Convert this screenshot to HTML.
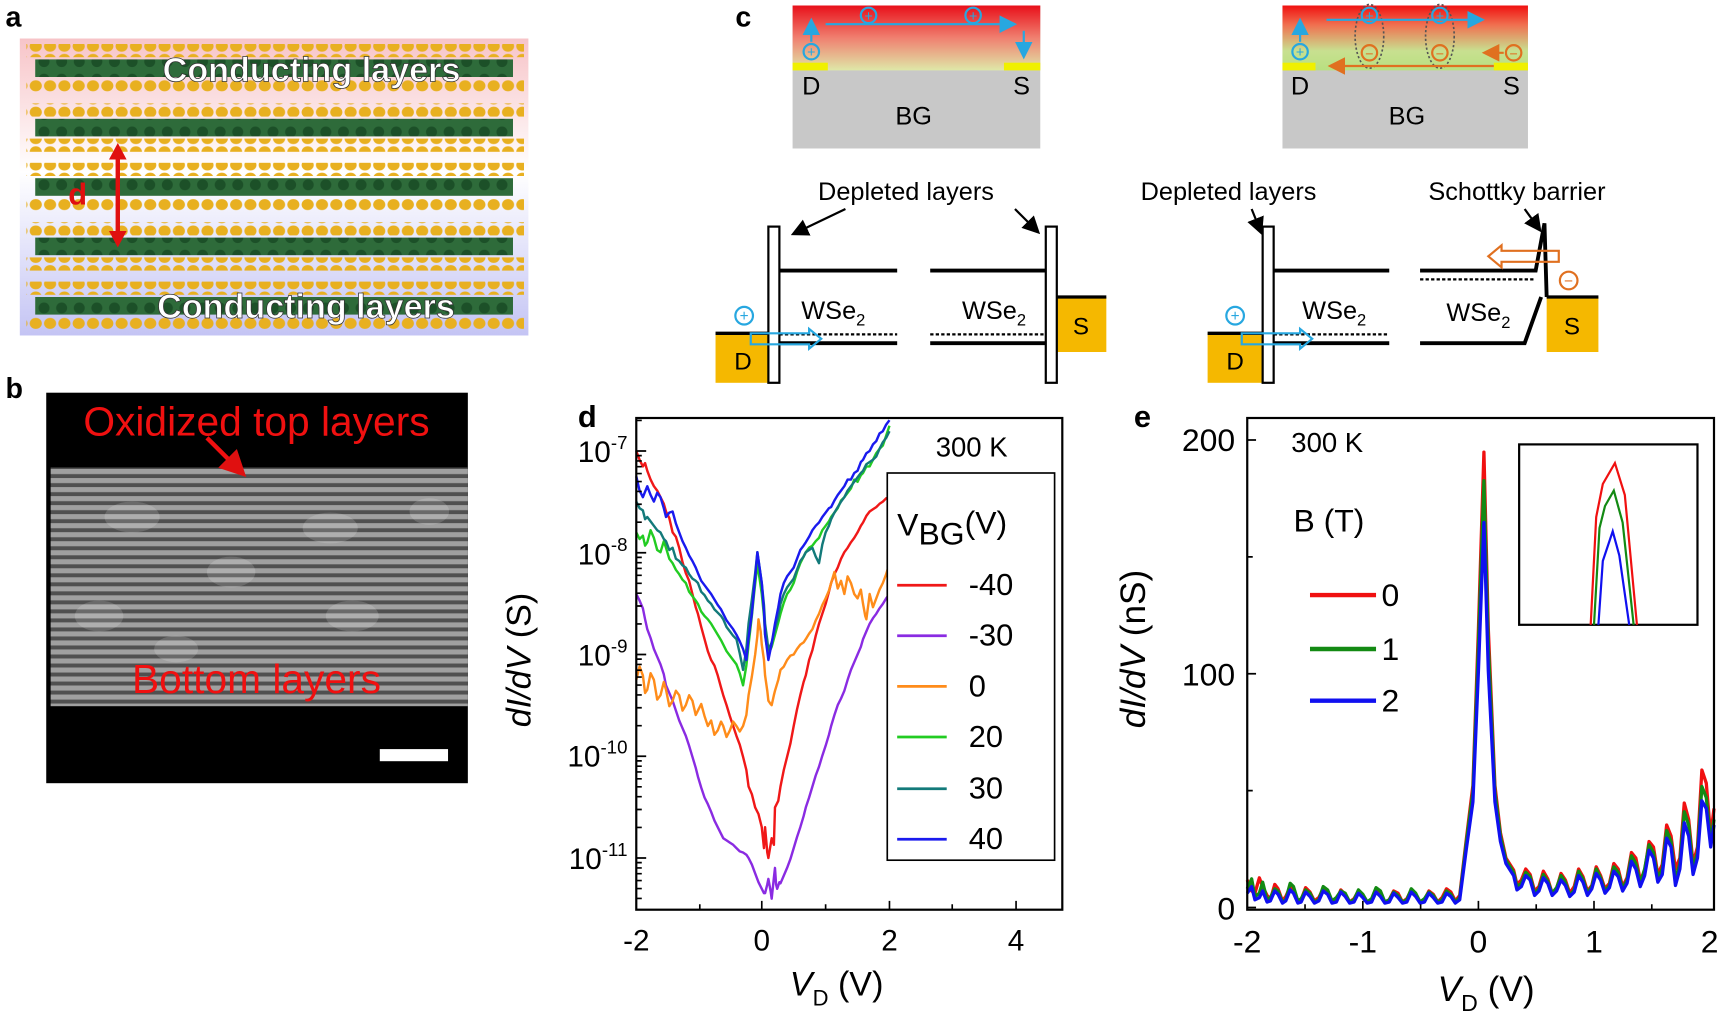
<!DOCTYPE html>
<html><head><meta charset="utf-8"><style>
html,body{margin:0;padding:0;background:#fff;}
svg{display:block;font-family:"Liberation Sans",Arial,sans-serif;}
</style></head><body>
<svg width="1725" height="1023" viewBox="0 0 1567 930" preserveAspectRatio="none" xmlns="http://www.w3.org/2000/svg">
<defs>
<linearGradient id="ga" x1="0" y1="0" x2="0" y2="1">
<stop offset="0" stop-color="#f7c4c8"/><stop offset="0.45" stop-color="#ffffff"/><stop offset="1" stop-color="#c4c4f4"/></linearGradient>
<linearGradient id="gc1" x1="0" y1="0" x2="0" y2="1">
<stop offset="0" stop-color="#e8101a"/><stop offset="0.5" stop-color="#f08070"/><stop offset="1" stop-color="#dfe8a8"/></linearGradient>
<linearGradient id="gc2" x1="0" y1="0" x2="0" y2="1">
<stop offset="0" stop-color="#f01010"/><stop offset="0.3" stop-color="#f07050"/><stop offset="0.7" stop-color="#c8e090"/><stop offset="1" stop-color="#b8e080"/></linearGradient>
<pattern id="balls" x="0" y="0" width="13" height="12" patternUnits="userSpaceOnUse">
<ellipse cx="6.5" cy="6" rx="5.5" ry="5" fill="#e8b020"/></pattern>
<pattern id="grn" x="0" y="0" width="16" height="16" patternUnits="userSpaceOnUse">
<rect width="16" height="16" fill="#2e6b3a"/><circle cx="8" cy="8" r="5" fill="#1c5028"/></pattern>
<pattern id="stripes" x="0" y="0" width="20" height="8.2" patternUnits="userSpaceOnUse">
<rect width="20" height="8.2" fill="#a0a0a0"/><rect y="4.6" width="20" height="3.6" fill="#505050"/></pattern>
<marker id="ab" markerWidth="8" markerHeight="8" refX="6" refY="4" orient="auto"><path d="M0,0 L8,4 L0,8 z" fill="#27a7e0"/></marker>
<marker id="ao" markerWidth="8" markerHeight="8" refX="6" refY="4" orient="auto"><path d="M0,0 L8,4 L0,8 z" fill="#e07020"/></marker>
<marker id="ak" markerWidth="8" markerHeight="8" refX="6" refY="4" orient="auto"><path d="M0,0 L8,4 L0,8 z" fill="#000"/></marker>
<marker id="ar" markerWidth="6" markerHeight="6" refX="4" refY="3" orient="auto"><path d="M0,0 L6,3 L0,6 z" fill="#e01010"/></marker>
</defs>

<!-- panel a -->
<text x="5" y="24" font-size="26" font-weight="bold">a</text>
<rect x="18" y="35" width="462" height="270" fill="url(#ga)"/>
<g>
<rect x="24" y="40" width="452" height="12" fill="url(#balls)"/><rect x="24" y="72" width="452" height="12" fill="url(#balls)"/><rect x="32" y="54" width="434" height="16" fill="url(#grn)"/>
<rect x="24" y="94" width="452" height="12" fill="url(#balls)"/><rect x="24" y="126" width="452" height="12" fill="url(#balls)"/><rect x="32" y="108" width="434" height="16" fill="url(#grn)"/>
<rect x="24" y="148" width="452" height="12" fill="url(#balls)"/><rect x="24" y="180" width="452" height="12" fill="url(#balls)"/><rect x="32" y="162" width="434" height="16" fill="url(#grn)"/>
<rect x="24" y="202" width="452" height="12" fill="url(#balls)"/><rect x="24" y="234" width="452" height="12" fill="url(#balls)"/><rect x="32" y="216" width="434" height="16" fill="url(#grn)"/>
<rect x="24" y="256" width="452" height="12" fill="url(#balls)"/><rect x="24" y="288" width="452" height="12" fill="url(#balls)"/><rect x="32" y="270" width="434" height="16" fill="url(#grn)"/>
</g>
<line x1="107" y1="140" x2="107" y2="215" stroke="#e01010" stroke-width="4"/>
<path d="M99,145 L107,130 L115,145 z M99,210 L107,225 L115,210 z" fill="#e01010"/>
<text x="62" y="186" font-size="28" font-weight="bold" fill="#e01010">d</text>
<text x="283" y="74" font-size="31" font-weight="bold" fill="#fff" text-anchor="middle" stroke="#333" stroke-width="0.7">Conducting layers</text>
<text x="278" y="289" font-size="31" font-weight="bold" fill="#fff" text-anchor="middle" stroke="#333" stroke-width="0.7">Conducting layers</text>

<!-- panel b -->
<text x="5" y="362" font-size="26" font-weight="bold">b</text>
<rect x="42" y="357" width="383" height="355" fill="#000"/>
<rect x="46" y="425" width="379" height="217" fill="url(#stripes)"/>
<g fill="#fff" opacity="0.15">
<ellipse cx="120" cy="470" rx="25" ry="14"/><ellipse cx="210" cy="520" rx="22" ry="14"/><ellipse cx="300" cy="480" rx="25" ry="14"/><ellipse cx="390" cy="465" rx="18" ry="12"/><ellipse cx="90" cy="560" rx="22" ry="14"/><ellipse cx="320" cy="560" rx="24" ry="14"/><ellipse cx="160" cy="590" rx="20" ry="12"/>
</g>
<text x="233" y="396" font-size="37" fill="#f01010" text-anchor="middle">Oxidized top layers</text>
<line x1="188" y1="398" x2="218" y2="428" stroke="#f01010" stroke-width="4" marker-end="url(#ar)"/>
<text x="233" y="630" font-size="37" fill="#f01010" text-anchor="middle">Bottom layers</text>
<rect x="345" y="681" width="62" height="11" fill="#fff"/>

<!-- panel c -->
<text x="668" y="24" font-size="26" font-weight="bold">c</text>
<rect x="720" y="5" width="225" height="130" fill="#c8c8c8"/>
<rect x="720" y="5" width="225" height="59" fill="url(#gc1)"/>
<rect x="720" y="57" width="32" height="7" fill="#f0f000"/><rect x="912" y="57" width="33" height="7" fill="#f0f000"/>
<text x="737" y="86" font-size="23" text-anchor="middle">D</text>
<text x="928" y="86" font-size="23" text-anchor="middle">S</text>
<text x="830" y="113" font-size="23" text-anchor="middle">BG</text>
<g stroke="#27a7e0" stroke-width="2" fill="none">
<line x1="737" y1="38" x2="737" y2="20" marker-end="url(#ab)"/>
<line x1="750" y1="22" x2="920" y2="22" marker-end="url(#ab)"/>
<line x1="930" y1="28" x2="930" y2="50" marker-end="url(#ab)"/>
<circle cx="737" cy="47" r="7"/><circle cx="789" cy="14" r="7"/><circle cx="884" cy="14" r="7"/>
</g>
<g font-size="13" fill="#27a7e0" text-anchor="middle"><text x="737" y="52">+</text><text x="789" y="19">+</text><text x="884" y="19">+</text></g>

<rect x="1165" y="5" width="223" height="130" fill="#c8c8c8"/>
<rect x="1165" y="5" width="223" height="59" fill="url(#gc2)"/>
<rect x="1165" y="57" width="30" height="7" fill="#f0f000"/><rect x="1357" y="57" width="31" height="7" fill="#f0f000"/>
<text x="1181" y="86" font-size="23" text-anchor="middle">D</text>
<text x="1373" y="86" font-size="23" text-anchor="middle">S</text>
<text x="1278" y="113" font-size="23" text-anchor="middle">BG</text>
<g fill="none">
<ellipse cx="1244" cy="33" rx="13" ry="29" stroke="#555" stroke-width="1.5" stroke-dasharray="2,2"/>
<ellipse cx="1308" cy="33" rx="13" ry="29" stroke="#555" stroke-width="1.5" stroke-dasharray="2,2"/>
<line x1="1205" y1="18" x2="1345" y2="18" stroke="#27a7e0" stroke-width="2" marker-end="url(#ab)"/>
<line x1="1357" y1="60" x2="1210" y2="60" stroke="#e07020" stroke-width="2" marker-end="url(#ao)"/>
<line x1="1181" y1="38" x2="1181" y2="20" stroke="#27a7e0" stroke-width="2" marker-end="url(#ab)"/>
<line x1="1366" y1="48" x2="1350" y2="48" stroke="#e07020" stroke-width="2" marker-end="url(#ao)"/>
<circle cx="1181" cy="47" r="7" stroke="#27a7e0" stroke-width="2"/>
<circle cx="1244" cy="14" r="7" stroke="#27a7e0" stroke-width="2"/><circle cx="1308" cy="14" r="7" stroke="#27a7e0" stroke-width="2"/>
<circle cx="1244" cy="48" r="7" stroke="#e07020" stroke-width="2"/><circle cx="1308" cy="48" r="7" stroke="#e07020" stroke-width="2"/><circle cx="1375" cy="48" r="7" stroke="#e07020" stroke-width="2"/>
</g>
<g font-size="13" text-anchor="middle"><text x="1181" y="52" fill="#27a7e0">+</text><text x="1244" y="19" fill="#27a7e0">+</text><text x="1308" y="19" fill="#27a7e0">+</text>
<text x="1244" y="53" fill="#e07020">−</text><text x="1308" y="53" fill="#e07020">−</text><text x="1375" y="53" fill="#e07020">−</text></g>

<!-- band diagrams -->
<g font-size="23" text-anchor="middle">
<text x="823" y="182">Depleted layers</text>
<text x="1116" y="182">Depleted layers</text>
<text x="1378" y="182">Schottky barrier</text>
</g>
<g stroke="#000" stroke-width="2" fill="none">
<line x1="768" y1="190" x2="722" y2="212" marker-end="url(#ak)"/>
<line x1="922" y1="190" x2="942" y2="210" marker-end="url(#ak)"/>
<line x1="1137" y1="190" x2="1145" y2="210" marker-end="url(#ak)"/>
<line x1="1385" y1="190" x2="1398" y2="208" marker-end="url(#ak)"/>
</g>
<rect x="650" y="303" width="50" height="45" fill="#f5b800"/>
<line x1="650" y1="303" x2="700" y2="303" stroke="#000" stroke-width="3"/>
<rect x="698" y="206" width="10" height="142" fill="#fff" stroke="#000" stroke-width="2"/>
<line x1="708" y1="246" x2="815" y2="246" stroke="#000" stroke-width="3.5"/>
<line x1="708" y1="312" x2="815" y2="312" stroke="#000" stroke-width="3.5"/>
<line x1="708" y1="304" x2="815" y2="304" stroke="#000" stroke-width="2" stroke-dasharray="3,2"/>
<line x1="845" y1="246" x2="950" y2="246" stroke="#000" stroke-width="3.5"/>
<line x1="845" y1="312" x2="950" y2="312" stroke="#000" stroke-width="3.5"/>
<line x1="845" y1="304" x2="950" y2="304" stroke="#000" stroke-width="2" stroke-dasharray="3,2"/>
<rect x="960" y="270" width="45" height="50" fill="#f5b800"/>
<line x1="960" y1="270" x2="1005" y2="270" stroke="#000" stroke-width="3"/>
<rect x="950" y="206" width="10" height="142" fill="#fff" stroke="#000" stroke-width="2"/>
<text x="675" y="336" font-size="22" text-anchor="middle">D</text>
<text x="982" y="304" font-size="22" text-anchor="middle">S</text>
<text x="757" y="290" font-size="23" text-anchor="middle">WSe<tspan font-size="15" dy="6">2</tspan></text>
<text x="903" y="290" font-size="23" text-anchor="middle">WSe<tspan font-size="15" dy="6">2</tspan></text>
<circle cx="676" cy="287" r="8" fill="none" stroke="#27a7e0" stroke-width="2"/><text x="676" y="292" font-size="14" fill="#27a7e0" text-anchor="middle">+</text>
<path d="M682,303 L735,303 L735,299 L746,308 L735,317 L735,313 L682,313 z" fill="none" stroke="#27a7e0" stroke-width="2"/>
<rect x="1097" y="303" width="50" height="45" fill="#f5b800"/>
<line x1="1097" y1="303" x2="1147" y2="303" stroke="#000" stroke-width="3"/>
<rect x="1147" y="206" width="10" height="142" fill="#fff" stroke="#000" stroke-width="2"/>
<line x1="1157" y1="246" x2="1262" y2="246" stroke="#000" stroke-width="3.5"/>
<line x1="1157" y1="312" x2="1262" y2="312" stroke="#000" stroke-width="3.5"/>
<line x1="1157" y1="304" x2="1262" y2="304" stroke="#000" stroke-width="2" stroke-dasharray="3,2"/>
<text x="1122" y="336" font-size="22" text-anchor="middle">D</text>
<text x="1212" y="290" font-size="23" text-anchor="middle">WSe<tspan font-size="15" dy="6">2</tspan></text>
<circle cx="1122" cy="287" r="8" fill="none" stroke="#27a7e0" stroke-width="2"/><text x="1122" y="292" font-size="14" fill="#27a7e0" text-anchor="middle">+</text>
<path d="M1128,303 L1181,303 L1181,299 L1192,308 L1181,317 L1181,313 L1128,313 z" fill="none" stroke="#27a7e0" stroke-width="2"/>
<path d="M1290,246 L1395,246 L1403,203 L1405,270" fill="none" stroke="#000" stroke-width="3.5"/>
<line x1="1290" y1="254" x2="1395" y2="254" stroke="#000" stroke-width="2" stroke-dasharray="3,2"/>
<path d="M1290,312 L1385,312 L1400,270" fill="none" stroke="#000" stroke-width="3.5"/>
<rect x="1405" y="270" width="47" height="50" fill="#f5b800"/>
<line x1="1405" y1="270" x2="1452" y2="270" stroke="#000" stroke-width="3"/>
<text x="1428" y="304" font-size="22" text-anchor="middle">S</text>
<text x="1343" y="292" font-size="23" text-anchor="middle">WSe<tspan font-size="15" dy="6">2</tspan></text>
<path d="M1416,228 L1364,228 L1364,223 L1352,233 L1364,243 L1364,238 L1416,238 z" fill="none" stroke="#e07020" stroke-width="2"/>
<circle cx="1425" cy="255" r="8" fill="none" stroke="#e07020" stroke-width="2"/><text x="1425" y="260" font-size="14" fill="#e07020" text-anchor="middle">−</text>

<!-- panel d -->
<text x="525" y="388" font-size="28" font-weight="bold">d</text>
<g fill="none" stroke-width="2.2" stroke-linejoin="round">
<polyline stroke="#f01818" points="578,410 581,418 584,424 586,421 588,428 591,436 594,442 597,446 600,452 603,458 605,465 608,471 611,484 614,488 617,498 620,511 623,521 626,528 629,540 632,552 634,558 637,570 640,581 643,592 646,600 649,605 652,614 655,625 657,632 660,641 663,651 666,660 669,669 672,677 675,688 678,700 680,715 683,722 686,734 689,740 692,752 694,771 695,752 697,775 698,780 700,768 701,762 703,768 704,734 707,728 709,715 712,700 715,688 718,676 721,660 724,645 727,632 730,620 732,614 735,600 738,591 741,578 744,567 747,558 750,549 753,538 755,530 758,522 761,516 764,508 767,502 770,498 773,493 776,489 779,484 782,478 784,475 787,469 790,465 793,463 796,461 799,458 802,456 805,453 808,452"/>
<polyline stroke="#8a2be2" points="578,540 581,546 584,553 586,563 588,572 591,580 594,590 597,597 600,604 603,613 605,623 608,630 611,637 614,646 617,655 620,662 623,669 626,678 629,688 632,698 634,706 637,716 640,725 643,731 646,738 649,746 652,752 655,758 657,762 660,764 663,766 666,768 669,771 672,774 675,775 678,777 680,780 683,786 686,794 689,802 692,808 694,812 695,812 697,804 698,799 700,810 701,817 703,798 704,789 705,804 706,808 708,802 709,803 712,796 715,789 718,781 721,771 724,761 727,752 730,742 732,734 735,725 738,715 741,705 744,697 747,687 750,678 753,668 755,660 758,650 761,641 764,635 767,628 770,618 773,609 776,602 779,595 782,588 784,581 787,574 790,567 793,562 796,558 799,553 802,549 805,544 808,540"/>
<polyline stroke="#ff8c1a" points="578,618 581,606 584,614 586,630 588,627 591,612 594,618 597,636 600,632 603,620 605,627 608,642 611,637 614,628 617,632 620,646 623,641 626,632 629,637 632,650 634,646 637,640 640,651 643,660 646,655 649,668 652,664 655,656 657,660 660,670 663,664 666,656 669,660 672,665 675,660 678,650 680,632 683,615 686,595 688,578 689,563 691,574 692,586 694,600 695,614 697,628 698,637 700,640 701,641 703,632 704,628 707,618 709,609 712,606 715,600 718,596 721,595 724,590 727,586 730,584 732,581 735,576 738,572 741,564 744,558 747,550 750,544 753,537 755,530 758,520 761,535 764,528 767,540 770,524 773,530 776,540 779,544 782,536 784,549 786,560 787,563 789,548 790,540 793,552 796,544 799,536 802,530 805,522 808,512"/>
<polyline stroke="#22cc22" points="578,484 581,490 584,487 586,496 588,493 591,482 594,489 597,500 600,502 603,492 605,498 608,508 611,512 614,518 617,522 620,527 623,530 626,538 629,542 632,546 634,549 637,556 640,560 643,563 646,567 649,572 652,577 655,582 657,586 660,592 663,596 666,600 669,604 672,612 675,623 678,605 680,586 683,560 685,540 687,522 688,512 690,526 692,540 694,560 695,577 697,590 698,595 701,588 704,577 707,566 709,558 712,548 715,540 718,536 721,530 724,520 727,512 730,506 732,502 735,498 738,496 741,492 744,489 747,482 750,478 753,474 755,470 758,466 761,462 764,455 767,452 770,448 773,444 776,436 779,438 782,432 784,430 787,424 790,424 793,418 796,412 799,408 802,405 805,396 808,387"/>
<polyline stroke="#137a7a" points="578,456 581,462 584,464 586,472 588,470 591,474 594,478 597,482 600,484 603,490 605,492 608,500 611,498 614,508 617,510 620,514 623,516 626,522 629,526 632,528 634,530 637,538 640,541 643,546 646,549 649,554 652,557 655,560 657,563 660,570 663,574 666,578 669,581 672,594 675,609 678,590 680,567 683,545 686,521 688,502 690,516 692,530 694,550 695,567 697,582 698,591 701,584 704,572 707,560 709,549 712,540 715,534 718,530 721,526 724,518 727,510 730,506 732,502 735,500 738,498 741,506 744,512 747,495 750,484 753,478 755,472 758,466 761,461 764,456 767,452 770,446 773,442 776,438 779,434 782,430 784,428 787,422 790,420 793,418 796,415 799,408 802,402 805,398 808,392"/>
<polyline stroke="#1a1aee" points="578,433 581,446 584,452 586,447 588,442 591,450 594,456 597,448 600,452 603,462 605,470 608,466 611,465 614,476 617,484 620,492 623,498 626,505 629,510 632,516 634,521 637,528 640,532 643,536 646,540 649,545 652,550 655,554 657,558 660,564 663,568 666,572 669,577 672,583 675,590 678,600 680,580 683,558 686,525 688,502 690,516 692,530 694,556 695,577 697,592 698,600 701,585 704,567 707,552 709,540 712,530 715,524 718,520 721,516 724,508 727,500 730,496 732,493 735,488 738,482 741,478 744,475 747,470 750,466 753,462 755,461 758,455 761,450 764,446 767,442 770,436 773,436 776,430 779,428 782,420 784,418 787,412 790,410 793,404 796,401 799,394 802,392 805,386 808,382"/>
</g>
<rect x="578" y="380" width="387" height="447" fill="none" stroke="#000" stroke-width="2"/>
<path stroke="#000" stroke-width="1.5" fill="none" d="M578,410h9 M578,502.5h9 M578,595h9 M578,687.5h9 M578,780h9
M578,382.2h5
M578,474.7h5 M578,458.4h5 M578,446.8h5 M578,437.8h5 M578,430.5h5 M578,424.3h5 M578,419h5 M578,414.2h5
M578,567.2h5 M578,550.9h5 M578,539.3h5 M578,530.3h5 M578,523h5 M578,516.8h5 M578,511.5h5 M578,506.7h5
M578,659.7h5 M578,643.4h5 M578,631.8h5 M578,622.8h5 M578,615.5h5 M578,609.3h5 M578,604h5 M578,599.2h5
M578,752.2h5 M578,735.9h5 M578,724.3h5 M578,715.3h5 M578,708h5 M578,701.8h5 M578,696.5h5 M578,691.7h5
M578,816.8h5 M578,807.8h5 M578,800.5h5 M578,794.3h5 M578,789h5 M578,784.2h5
M635.7,827v-5 M692,827v-8 M750,827v-5 M808,827v-8 M865,827v-5 M923,827v-8"/>
<g font-size="27" text-anchor="end">
<text x="570" y="420">10<tspan font-size="17" dy="-12">-7</tspan></text>
<text x="570" y="513">10<tspan font-size="17" dy="-12">-8</tspan></text>
<text x="570" y="605">10<tspan font-size="17" dy="-12">-9</tspan></text>
<text x="570" y="697">10<tspan font-size="17" dy="-12">-10</tspan></text>
<text x="570" y="790">10<tspan font-size="17" dy="-12">-11</tspan></text>
</g>
<g font-size="27" text-anchor="middle">
<text x="578" y="864">-2</text><text x="692" y="864">0</text><text x="808" y="864">2</text><text x="923" y="864">4</text>
</g>
<text x="760" y="905" font-size="31" text-anchor="middle"><tspan font-style="italic">V</tspan><tspan font-size="20" dy="9">D</tspan><tspan dy="-9"> (V)</tspan></text>
<text transform="translate(482,600) rotate(-90)" font-size="31" text-anchor="middle"><tspan font-style="italic">dI/dV</tspan> (S)</text>
<text x="850" y="415" font-size="25">300 K</text>
<rect x="806" y="430" width="152" height="352" fill="#fff" stroke="#000" stroke-width="1.5"/>
<text x="815" y="487" font-size="29">V<tspan font-size="29" dy="8">BG</tspan><tspan dy="-10">(V)</tspan></text>
<g stroke-width="2.5">
<line x1="815" y1="532" x2="860" y2="532" stroke="#f01818"/>
<line x1="815" y1="578" x2="860" y2="578" stroke="#8a2be2"/>
<line x1="815" y1="624" x2="860" y2="624" stroke="#ff8c1a"/>
<line x1="815" y1="670" x2="860" y2="670" stroke="#22cc22"/>
<line x1="815" y1="717" x2="860" y2="717" stroke="#137a7a"/>
<line x1="815" y1="763" x2="860" y2="763" stroke="#1a1aee"/>
</g>
<g font-size="28">
<text x="880" y="541">-40</text><text x="880" y="587">-30</text><text x="880" y="633">0</text>
<text x="880" y="679">20</text><text x="880" y="726">30</text><text x="880" y="772">40</text>
</g>

<!-- panel e -->
<text x="1030" y="388" font-size="28" font-weight="bold">e</text>
<g fill="none" stroke-width="3" stroke-linejoin="round">
<polyline stroke="#f01010" points="1133,800 1137,810 1140,812 1144,798 1147,806 1151,814 1154,818 1158,804 1161,808 1165,819 1168,815 1172,806 1175,810 1179,820 1182,818 1186,807 1190,811 1194,819 1198,816 1202,808 1206,812 1210,820 1214,819 1218,809 1222,813 1226,820 1230,817 1234,810 1238,814 1242,820 1246,819 1250,808 1254,813 1258,820 1262,818 1266,810 1270,812 1274,820 1278,817 1282,809 1286,813 1290,820 1294,818 1298,810 1302,813 1306,820 1310,816 1314,808 1318,811 1322,819 1326,814 1332,763 1338,714 1343,572 1348,411 1352,572 1358,714 1363,757 1368,780 1375,791 1378,804 1382,800 1386,790 1390,795 1394,810 1398,806 1402,792 1406,799 1410,812 1414,808 1418,794 1422,800 1426,812 1430,806 1434,790 1438,797 1442,810 1446,805 1450,788 1454,796 1458,808 1462,803 1466,785 1470,790 1474,806 1478,798 1482,775 1486,780 1490,800 1494,792 1498,765 1502,770 1506,795 1510,786 1514,750 1518,760 1522,790 1526,780 1530,730 1534,745 1538,785 1542,770 1546,700 1550,712 1554,760 1557,735"/>
<polyline stroke="#138a13" points="1133,808 1137,799 1140,815 1144,812 1147,802 1151,818 1154,816 1158,808 1161,810 1165,820 1168,818 1172,803 1175,806 1179,819 1182,817 1186,809 1190,812 1194,820 1198,818 1202,806 1206,809 1210,819 1214,816 1218,810 1222,812 1226,820 1230,818 1234,809 1238,813 1242,820 1246,817 1250,807 1254,810 1258,820 1262,818 1266,811 1270,814 1274,820 1278,818 1282,808 1286,812 1290,820 1294,817 1298,811 1302,814 1306,820 1310,818 1314,810 1318,813 1322,820 1326,816 1332,766 1338,720 1343,587 1348,437 1352,587 1358,720 1363,760 1368,782 1375,793 1378,806 1382,803 1386,793 1390,797 1394,812 1398,808 1402,795 1406,801 1410,812 1414,807 1418,796 1422,802 1426,814 1430,809 1434,792 1438,799 1442,812 1446,806 1450,790 1454,798 1458,810 1462,805 1466,788 1470,793 1474,808 1478,800 1482,778 1486,785 1490,803 1494,790 1498,768 1502,775 1506,798 1510,790 1514,755 1518,765 1522,800 1526,785 1530,738 1534,750 1538,790 1542,775 1546,715 1550,725 1554,765 1557,745"/>
<polyline stroke="#1010f0" points="1133,812 1137,806 1140,818 1144,816 1147,810 1151,820 1154,819 1158,810 1161,813 1165,821 1168,819 1172,809 1175,812 1179,821 1182,820 1186,811 1190,815 1194,821 1198,819 1202,810 1206,813 1210,821 1214,820 1218,811 1222,815 1226,821 1230,820 1234,812 1238,816 1242,821 1246,820 1250,811 1254,815 1258,821 1262,820 1266,812 1270,816 1274,821 1278,820 1282,811 1286,815 1290,821 1294,820 1298,812 1302,816 1306,821 1310,820 1314,812 1318,815 1322,821 1326,818 1332,772 1338,729 1343,610 1348,475 1352,610 1358,729 1363,765 1368,785 1375,796 1378,809 1382,806 1386,796 1390,800 1394,814 1398,810 1402,798 1406,803 1410,814 1414,810 1418,800 1422,805 1426,815 1430,811 1434,796 1438,802 1442,814 1446,808 1450,794 1454,800 1458,812 1462,807 1466,792 1470,797 1474,810 1478,803 1482,783 1486,790 1490,806 1494,796 1498,773 1502,780 1506,802 1510,795 1514,762 1518,770 1522,805 1526,790 1530,748 1534,760 1538,795 1542,780 1546,728 1550,735 1554,770 1557,750"/>
</g>
<rect x="1133" y="380" width="424" height="447" fill="none" stroke="#000" stroke-width="2"/>
<path stroke="#000" stroke-width="1.5" fill="none" d="M1133,825h8 M1133,718.75h5 M1133,612.5h8 M1133,506.25h5 M1133,400h8
M1185.5,827v-5 M1238,827v-8 M1290.5,827v-5 M1343,827v-8 M1395.5,827v-5 M1448,827v-8 M1500.5,827v-5"/>
<g font-size="29" text-anchor="end">
<text x="1122" y="410">200</text><text x="1122" y="623">100</text><text x="1122" y="836">0</text>
</g>
<g font-size="29" text-anchor="middle">
<text x="1133" y="866">-2</text><text x="1238" y="866">-1</text><text x="1343" y="866">0</text><text x="1448" y="866">1</text><text x="1553" y="866">2</text>
</g>
<text x="1350" y="910" font-size="32" text-anchor="middle"><tspan font-style="italic">V</tspan><tspan font-size="21" dy="9">D</tspan><tspan dy="-9"> (V)</tspan></text>
<text transform="translate(1040,590) rotate(-90)" font-size="32" text-anchor="middle"><tspan font-style="italic">dI/dV</tspan> (nS)</text>
<text x="1173" y="411" font-size="25">300 K</text>
<text x="1175" y="483" font-size="29">B (T)</text>
<g stroke-width="4">
<line x1="1190" y1="541" x2="1250" y2="541" stroke="#f01010"/>
<line x1="1190" y1="590" x2="1250" y2="590" stroke="#138a13"/>
<line x1="1190" y1="637" x2="1250" y2="637" stroke="#1010f0"/>
</g>
<g font-size="29"><text x="1255" y="551">0</text><text x="1255" y="600">1</text><text x="1255" y="647">2</text></g>
<rect x="1380" y="404" width="162" height="164" fill="#fff" stroke="#000" stroke-width="2"/>
<g fill="none" stroke-width="2">
<path d="M1445,568 L1450,470 L1456,440 L1467,421 L1476,450 L1487,568" stroke="#f01010"/>
<path d="M1448,568 L1453,480 L1458,460 L1466,446 L1474,475 L1484,568" stroke="#138a13"/>
<path d="M1452,568 L1456,510 L1461,495 L1465,483 L1471,505 L1480,568" stroke="#1010f0"/>
</g>
</svg>
</body></html>
